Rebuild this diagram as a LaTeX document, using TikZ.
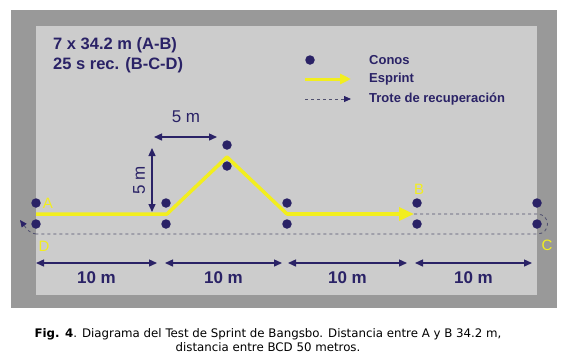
\documentclass[tikz,border=0pt]{standalone}
\usepackage{fontspec}
\setmainfont{Liberation Sans}
\newfontfamily\capfont{DejaVu Sans}
\usetikzlibrary{arrows.meta,positioning,calc}
\definecolor{navy}{RGB}{42,34,102}
\definecolor{sprint}{RGB}{242,238,30}
\definecolor{field}{RGB}{204,204,204}
\definecolor{frame}{RGB}{153,153,153}
\definecolor{trot}{RGB}{80,80,110}

\begin{document}
\begin{tikzpicture}[x=1pt, y=-1pt,
  cone/.style={circle, fill=navy, inner sep=0pt, minimum size=9.5pt},
  sprnt/.style={draw=sprint, line width=3.5pt},
  jog/.style={draw=trot, line width=0.8pt, dash pattern=on 3pt off 3pt},
  dim/.style={draw=navy, line width=1.4pt, {Triangle[length=8pt,width=7pt]}-{Triangle[length=8pt,width=7pt]}},
  txt/.style={inner sep=0pt, text=navy},
  lbl/.style={inner sep=0pt, text=sprint, font=\fontsize{15}{15}\selectfont},
  dimtxt/.style={inner sep=0pt, text=navy, font=\fontsize{17}{17}\selectfont\bfseries}
]
  \useasboundingbox (0,0) rectangle (571,360);
  \fill[white] (0,0) rectangle (571,360);
  \fill[frame] (11,10) rectangle (557,308);
  \fill[field] (36,26) rectangle (537,295);

  % title
  \node[txt, anchor=west, font=\fontsize{16.5}{16.5}\selectfont\bfseries] (reps) at (53,45) {7 x 34.2 m (A-B)};
  \node[txt, anchor=west, font=\fontsize{16.5}{16.5}\selectfont\bfseries] (rest) at (53,65) {25 s rec. (B-C-D)};

  % legend
  \node[cone] (lcone) at (310,60) {};
  \coordinate (ls1) at (305,79);
  \coordinate (ls2) at (351,79);
  \coordinate (lj1) at (305,99);
  \coordinate (lj2) at (351,99);
  \draw[sprnt, line width=3pt, -{Triangle[length=11pt,width=10pt]}] (ls1) -- (ls2);
  \draw[jog, -{Triangle[length=7pt,width=6pt,fill=navy,color=navy]}] (lj1) -- (lj2);
  \node[txt, anchor=west, font=\fontsize{13}{13}\selectfont\bfseries] (lconos) at (369,60) {Conos};
  \node[txt, anchor=west, font=\fontsize{13}{13}\selectfont\bfseries] (lsprint) at (369,79) {Esprint};
  \node[txt, anchor=west, font=\fontsize{13}{13}\selectfont\bfseries] (ljog) at (369,99) {Trote de recuperación};

  % cones
  \foreach \n/\x in {a/36, p/166, q/287, b/417, c/537} {
    \node[cone] (\n up) at (\x,203) {};
    \node[cone] (\n lo) at (\x,224) {};
  }
  \node[cone] (topup) at (227,145) {};
  \node[cone] (toplo) at (227,166) {};

  % paths
  \coordinate (A) at (36,214);
  \coordinate (turn1) at (167,214);
  \coordinate (peak) at (227,157);
  \coordinate (turn2) at (287,214);
  \coordinate (B) at (414,214);
  \coordinate (C) at (537,214);
  \coordinate (Cb) at (537,234);
  \coordinate (D) at (36,234);
  \coordinate (back) at (20,220);
  \draw[jog] (B) -- (C) .. controls (551,214) and (551,234) .. (Cb) -- (D);
  \draw[jog, -{Triangle[length=7pt,width=6pt,fill=navy,color=navy]}] (D) .. controls (30,234) and (26,228) .. (back);
  \draw[sprnt, line join=round] (A) -- (turn1) -- (peak) -- (turn2) -- ([xshift=-12pt]B);
  \draw[sprnt, -{Triangle[length=15pt,width=13pt]}] (turn2) -- (B);

  % letters
  \node[lbl] (la) at (48,203) {A};
  \node[lbl] (lb) at (419,189) {B};
  \node[lbl] (lc) at (547,245) {C};
  \node[lbl] (ld) at (44,246) {D};

  % 5 m marks
  \coordinate (v1) at (152,148);
  \coordinate (v2) at (152,212);
  \coordinate (h1) at (154,137);
  \coordinate (h2) at (217,137);
  \draw[dim] (v1) -- (v2);
  \draw[dim] (h1) -- (h2);
  \node[txt, rotate=90, font=\fontsize{17}{17}\selectfont] (vlab) at (139,180) {5 m};
  \node[txt, font=\fontsize{17}{17}\selectfont] (hlab) at (186,117) {5 m};

  % 10 m marks
  \foreach \i/\l/\r in {1/36/157, 2/165/282, 3/288/407, 4/415/532} {
    \coordinate (d\i l) at (\l,263);
    \coordinate (d\i r) at (\r,263);
    \draw[dim] (d\i l) -- (d\i r);
    \node[dimtxt] (m\i) at ($(d\i l)!0.5!(d\i r)+(0,15)$) {10 m};
  }

  % caption
  \node[inner sep=0pt, align=center, font=\capfont\fontsize{11.8}{14}\selectfont] (cap) at (268,340)
    {\textbf{Fig. 4}. Diagrama del Test de Sprint de Bangsbo. Distancia entre A y B 34.2 m,\\ distancia entre BCD 50 metros.};
\end{tikzpicture}
\end{document}
